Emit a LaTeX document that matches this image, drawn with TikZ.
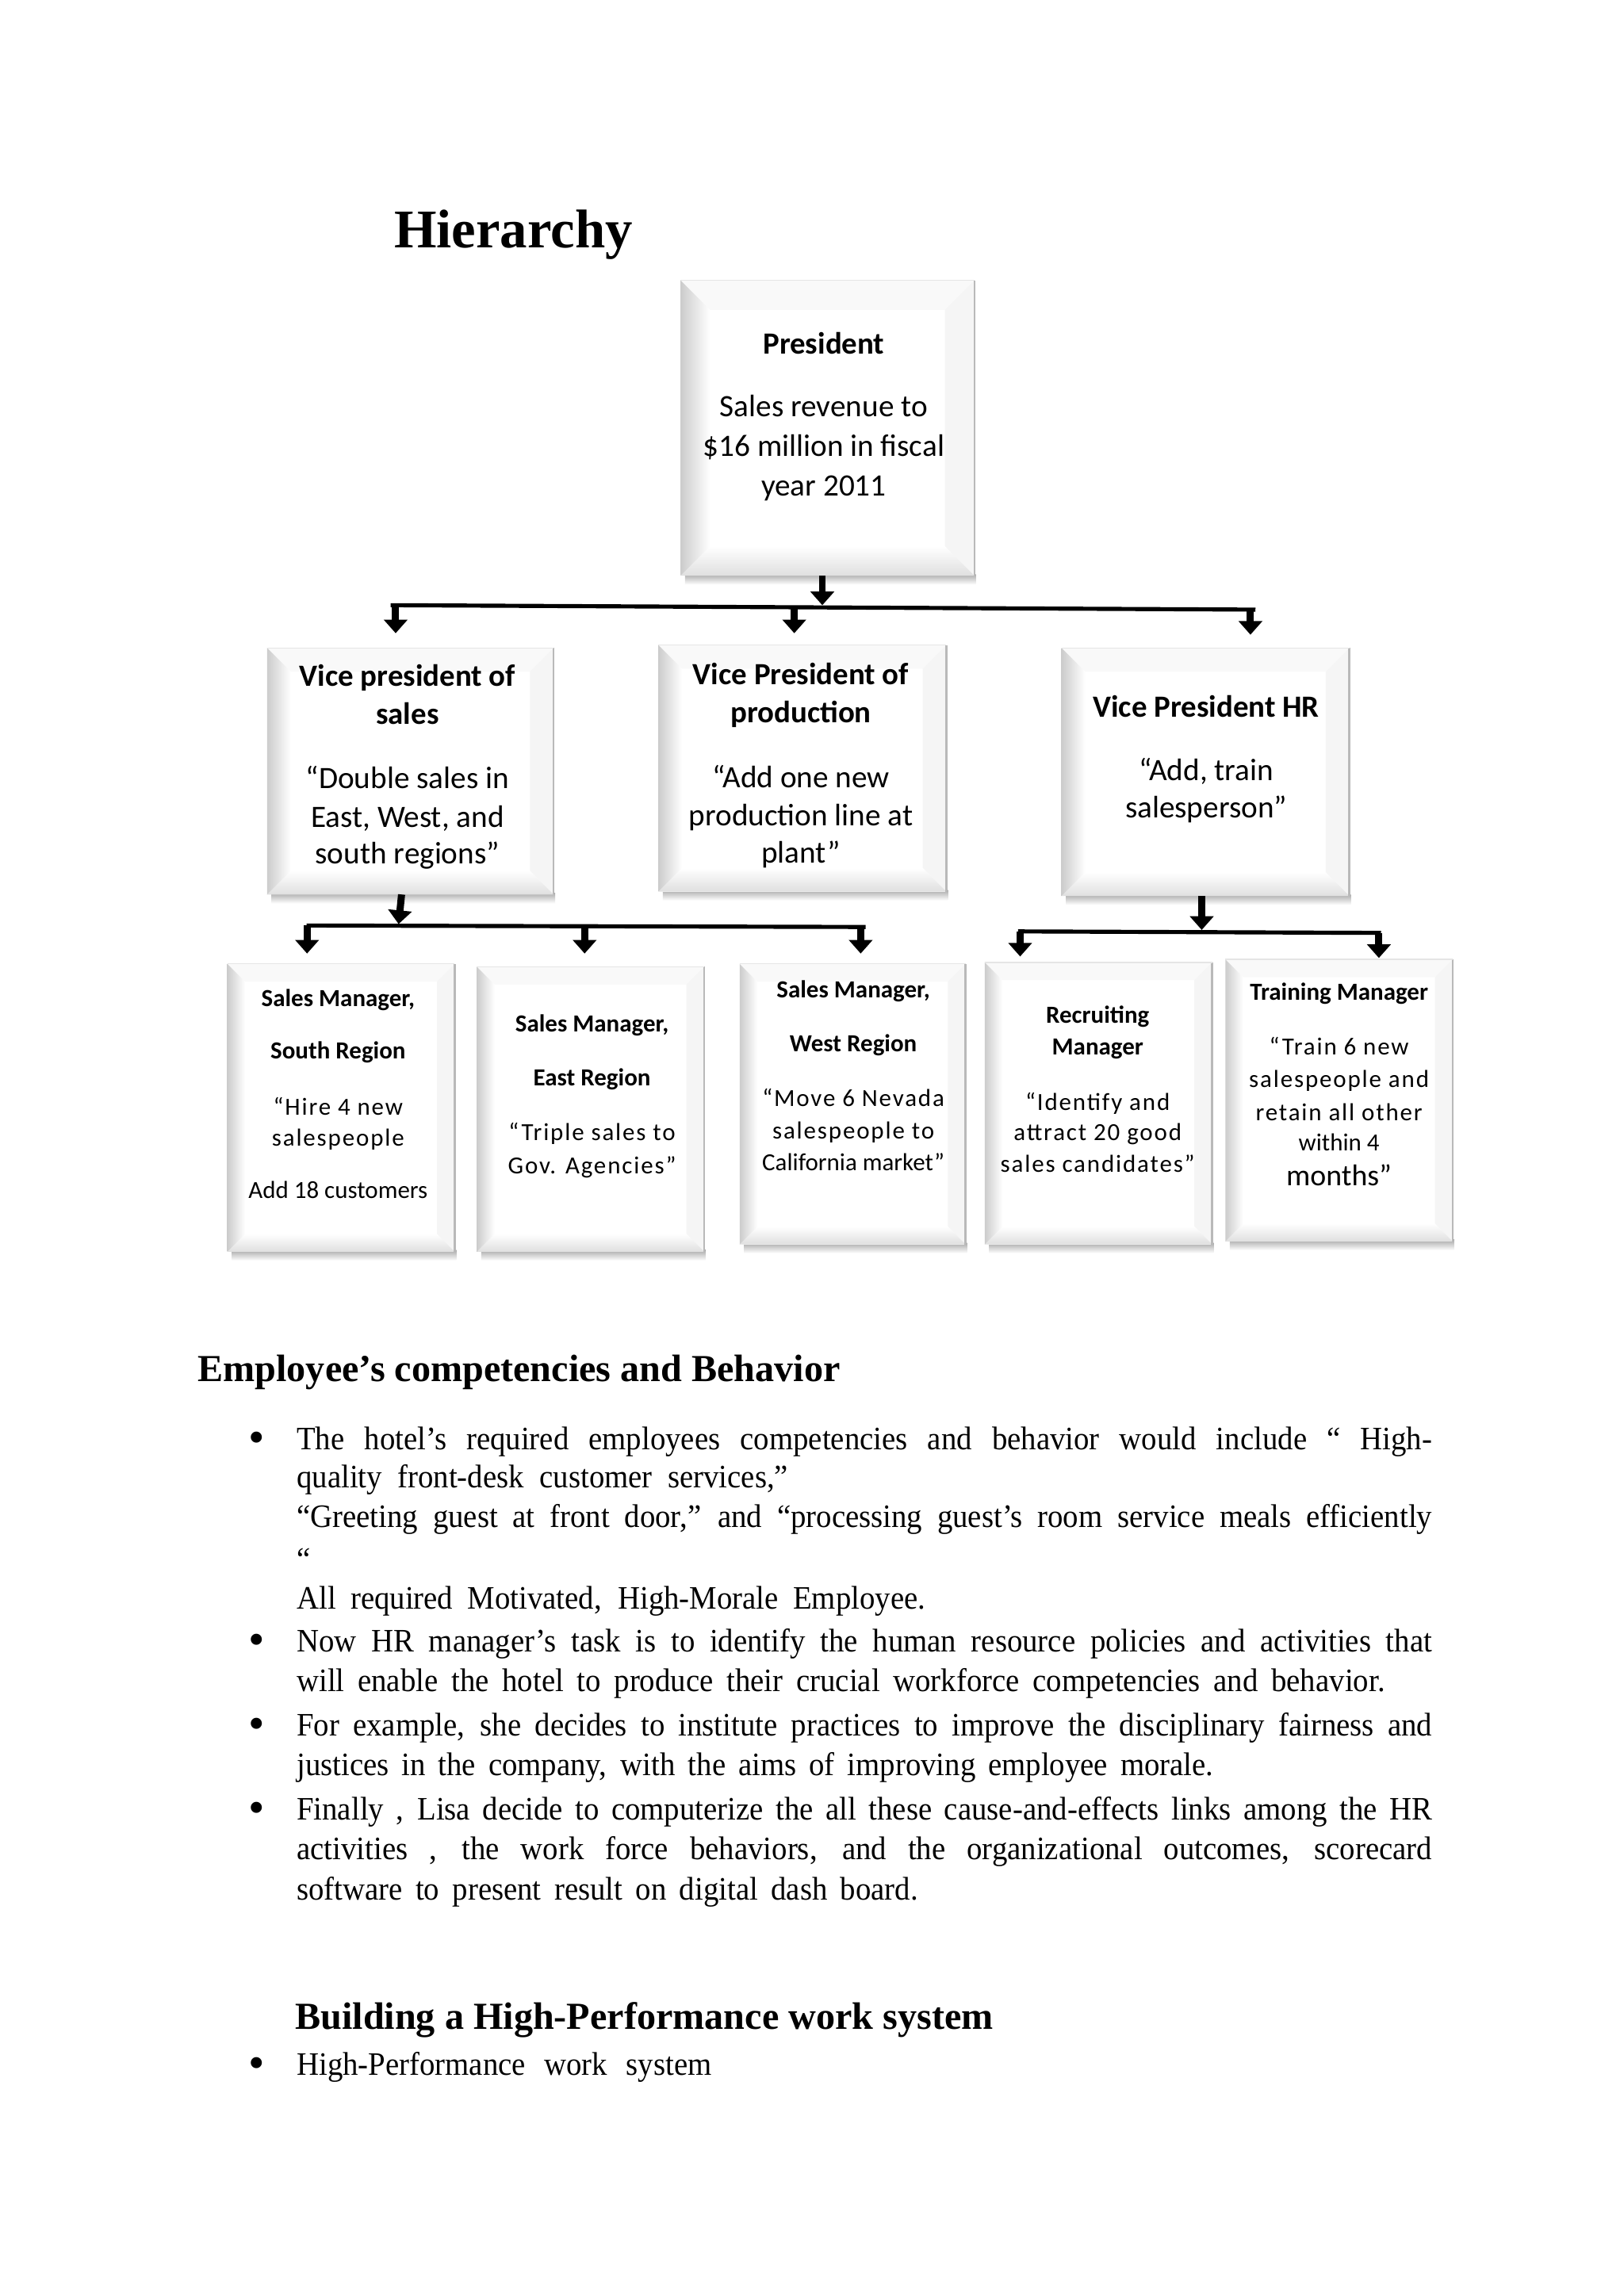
\documentclass[tikz,border=0pt]{standalone}
\usepackage{fontspec}
\setmainfont{Liberation Serif}
\newfontfamily\bodyfont[FakeStretch=0.94]{Liberation Serif}
\newfontfamily\boxfont{Carlito}
\newfontfamily\boxfontls[LetterSpace=6]{Carlito}
\usetikzlibrary{arrows.meta,calc,fit}
\newcounter{tc}
\newcommand\myline[4][]{\stepcounter{tc}\edef\tcn{t\arabic{tc}}\node[tx,#1] (\tcn) at (#2,#3) {#4};}
\newcommand\bevbox[6]{%
  \node[fit={(#2,#3)(#4,#5)},inner sep=0pt,outer sep=0pt] (#1) {};
  \shade[top color=gray!65,bottom color=white] ($(#1.south west)+(3,-1)$) rectangle ($(#1.south east)+(1,6)$);
  \fill[white] (#1.south west) rectangle (#1.north east);
  \fill[gray!5] (#1.north west) -- (#1.north east) -- ($(#1.north east)+(-#6,#6)$) -- ($(#1.north west)+(#6,#6)$) -- cycle;
  \fill[gray!8] (#1.north east) -- ($(#1.north east)+(-#6,#6)$) -- ($(#1.south east)+(-#6,-#6)$) -- (#1.south east) -- cycle;
  \shade[top color=white,bottom color=gray!25] (#1.south west) -- ($(#1.south west)+(#6,-#6)$) -- ($(#1.south east)+(-#6,-#6)$) -- (#1.south east) -- cycle;
  \shade[left color=gray!40,right color=white] (#1.north west) -- ($(#1.north west)+(#6,#6)$) -- ($(#1.south west)+(#6,-#6)$) -- (#1.south west) -- cycle;
  \draw[gray!55,line width=0.7pt] (#1.north east) -- (#1.south east);
  \draw[gray!20,line width=0.4pt] (#1.north west) -- (#1.north east);
}
\tikzset{
  conn/.style={line width=2.6pt,-{Triangle[width=8.5pt,length=5pt]}},
  barln/.style={line width=1.5pt,line cap=rect},
  tx/.style={anchor=base,inner sep=0pt,outer sep=0pt},
  fpres/.style={font=\boxfont\fontsize{11.4}{13.7}\selectfont},
  fpresb/.style={font=\boxfont\bfseries\fontsize{11.3}{13.7}\selectfont},
  fmgr/.style={font=\boxfont\fontsize{9}{11}\selectfont},
  fmgrb/.style={font=\boxfont\bfseries\fontsize{9}{11}\selectfont},
  fmgrs/.style={font=\boxfontls\fontsize{9}{11}\selectfont},
  fbig/.style={font=\boxfont\fontsize{11}{13}\selectfont},
  fbody/.style={font=\bodyfont\fontsize{12}{14}\selectfont,anchor=base west},
  fhead/.style={font=\bfseries\fontsize{14}{16}\selectfont,anchor=base west},
  fbul/.style={font=\fontsize{17}{17}\selectfont},
}
\begin{document}
\begin{tikzpicture}[x=0.54118pt,y=-0.54118pt]
\useasboundingbox (0,0) rectangle (1100,1555.5);
\fill[white] (0,0) rectangle (1100,1555.5);

\myline[font=\bfseries\fontsize{20}{24}\selectfont,anchor=base west]{267}{168}{Hierarchy}

% boxes
\bevbox{pres}{461}{190}{660}{390}{20}
\bevbox{vps}{181}{439}{375}{606}{16}
\bevbox{vpp}{446}{437}{641}{604}{16}
\bevbox{vph}{719}{439}{914}{607}{16}
\bevbox{mS}{154}{653}{308}{848}{12}
\bevbox{mE}{323}{655}{477}{848}{12}
\bevbox{mW}{501}{653}{654}{843}{12}
\bevbox{mR}{667}{652}{821}{843}{12}
\bevbox{mT}{830}{650}{984}{841}{12}

% level 1 connectors
\coordinate (pA) at ($(pres.south)+(-3.5,0)$);
\coordinate (pT) at (557,410);
\coordinate (b1L) at (266,410);
\coordinate (b1R) at (849,413);
\coordinate (d1) at (268,410);  \coordinate (d1t) at (268,429);
\coordinate (d2) at (538,411.5);\coordinate (d2t) at (538,429);
\coordinate (d3) at (847,413);  \coordinate (d3t) at (847,430);
\draw[barln] (b1L) -- (b1R);
\draw[conn] (pA) -- (pT);
\draw[conn] (d1) -- (d1t);
\draw[conn] (d2) -- (d2t);
\draw[conn] (d3) -- (d3t);

% level 2 left
\coordinate (sA) at ($(vps.south)+(-6,0)$);
\coordinate (sT) at (270,626);
\coordinate (b2L) at (209,627);
\coordinate (b2R) at (585,628);
\coordinate (e1) at (208,627);  \coordinate (e1t) at (208,646);
\coordinate (e2) at (396,627.5);\coordinate (e2t) at (396,646);
\coordinate (e3) at (583,628);  \coordinate (e3t) at (583,646);
\draw[barln] (b2L) -- (b2R);
\draw[conn] (sA) -- (sT);
\draw[conn] (e1) -- (e1t);
\draw[conn] (e2) -- (e2t);
\draw[conn] (e3) -- (e3t);

% level 2 right
\coordinate (hA) at ($(vph.south)+(-2.5,0)$);
\coordinate (hT) at (814,630);
\coordinate (b3L) at (691,631);
\coordinate (b3R) at (934,632);
\coordinate (f1) at (691,631);  \coordinate (f1t) at (691,648);
\coordinate (f2) at (934,632);  \coordinate (f2t) at (934,649);
\draw[barln] (b3L) -- (b3R);
\draw[conn] (hA) -- (hT);
\draw[conn] (f1) -- (f1t);
\draw[conn] (f2) -- (f2t);

% president text
\myline[fpresb]{558}{240}{President}
\myline[fpres]{558}{282}{Sales revenue to}
\myline[fpres]{558}{309}{\$16 million in fiscal}
\myline[fpres]{558}{336}{year 2011}

% VP sales
\myline[fpresb]{276}{464.6}{Vice president of}
\myline[fpresb]{276}{490.5}{sales}
\myline[fpres]{276}{534.4}{“Double sales in}
\myline[fpres]{276}{560.4}{East, West, and}
\myline[fpres]{276}{585.4}{south regions”}

% VP production
\myline[fpresb]{542.5}{463.6}{Vice President of}
\myline[fpresb]{542.5}{489.6}{production}
\myline[fpres]{542.5}{533.5}{“Add one new}
\myline[fpres]{542.5}{559.5}{production line at}
\myline[fpres]{542.5}{584.5}{plant”}

% VP HR
\myline[fpresb]{817}{485.6}{Vice President HR}
\myline[fpres]{817}{529}{“Add, train}
\myline[fpres]{817}{554}{salesperson”}

% South
\myline[fmgrb]{229}{681.6}{Sales Manager,}
\myline[fmgrb]{229}{717.5}{South Region}
\myline[fmgrs]{229}{755.6}{“Hire 4 new}
\myline[fmgrs]{229}{776.2}{salespeople}
\myline[fmgr]{229}{812}{Add 18 customers}

% East
\myline[fmgrb]{401}{699.2}{Sales Manager,}
\myline[fmgrb]{401}{735.4}{East Region}
\myline[fmgrs]{401}{772.4}{“Triple sales to}
\myline[fmgrs]{401}{795}{Gov. Agencies”}

% West
\myline[fmgrb]{578}{675.8}{Sales Manager,}
\myline[fmgrb]{578}{712.5}{West Region}
\myline[fmgrs]{578}{749.3}{“Move 6 Nevada}
\myline[fmgrs]{578}{771.8}{salespeople to}
\myline[fmgr]{578}{793.3}{California market”}

% Recruiting
\myline[fmgrb]{743.5}{692.9}{Recruiting}
\myline[fmgrb]{743.5}{714.4}{Manager}
\myline[fmgrs]{743.5}{752}{“Identify and}
\myline[fmgrs]{743.5}{772.5}{attract 20 good}
\myline[fmgrs]{743.5}{794}{sales candidates”}

% Training
\myline[fmgrb]{907}{677.7}{Training Manager}
\myline[fmgrs]{907}{714.4}{“Train 6 new}
\myline[fmgrs]{907}{736.8}{salespeople and}
\myline[fmgrs]{907}{759}{retain all other}
\myline[fmgr]{907}{779.7}{within 4}
\myline[fbig]{907}{803}{months”}

% Body text
\myline[fhead]{134}{936}{Employee’s competencies and Behavior}

\myline[fbul]{174}{984}{\textbullet}
\myline[fbody]{201}{982}{\makebox[416.2pt][s]{The hotel’s required employees competencies and behavior would include “ High-}}
\myline[fbody]{201}{1008}{\makebox[180.2pt][s]{quality front-desk customer services,”}}
\myline[fbody]{201}{1035}{\makebox[416.2pt][s]{“Greeting guest at front door,” and “processing guest’s room service meals efficiently}}
\myline[fbody]{201}{1064}{“}
\myline[fbody]{201}{1090}{\makebox[230.5pt][s]{All required Motivated, High-Morale Employee.}}

\myline[fbul]{174}{1121}{\textbullet}
\myline[fbody]{201}{1119}{\makebox[416.2pt][s]{Now HR manager’s task is to identify the human resource policies and activities that}}
\myline[fbody]{201}{1146}{\makebox[398.9pt][s]{will enable the hotel to produce their crucial workforce competencies and behavior.}}

\myline[fbul]{174}{1178}{\textbullet}
\myline[fbody]{201}{1176}{\makebox[416.2pt][s]{For example, she decides to institute practices to improve the disciplinary fairness and}}
\myline[fbody]{201}{1203}{\makebox[336.1pt][s]{justices in the company, with the aims of improving employee morale.}}

\myline[fbul]{174}{1235}{\textbullet}
\myline[fbody]{201}{1233}{\makebox[416.2pt][s]{Finally , Lisa decide to computerize the all these cause-and-effects links among the HR}}
\myline[fbody]{201}{1260}{\makebox[416.2pt][s]{activities , the work force behaviors, and the organizational outcomes, scorecard}}
\myline[fbody]{201}{1287}{\makebox[227.8pt][s]{software to present result on digital dash board.}}

\myline[fhead]{200}{1375}{Building a High-Performance work system}
\myline[fbul]{174}{1408}{\textbullet}
\myline[fbody]{201}{1406}{\makebox[152.1pt][s]{High-Performance work system}}
\end{tikzpicture}
\end{document}
